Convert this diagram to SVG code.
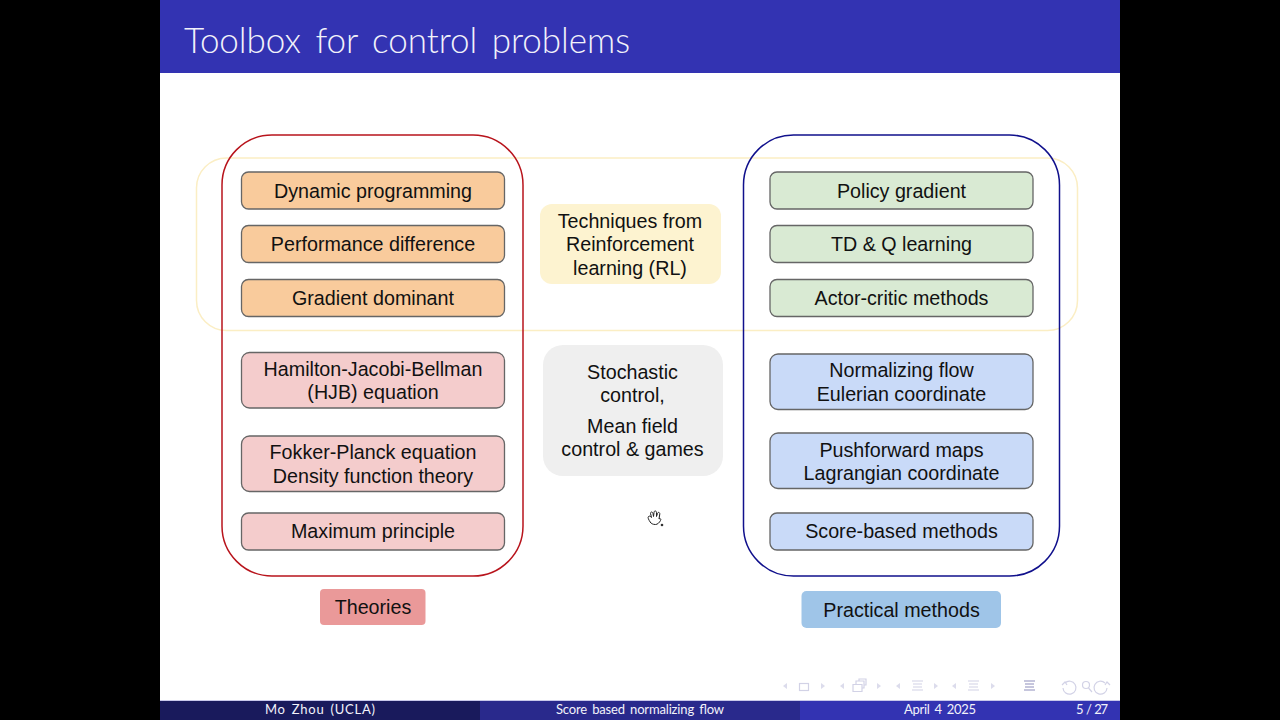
<svg xmlns="http://www.w3.org/2000/svg" width="1280" height="720" viewBox="0 0 1280 720">
<style>
text{font-family:"Liberation Sans",Arial,sans-serif;font-size:19.700px;fill:#111;text-anchor:middle}
.box{stroke:#666;stroke-width:1.300}
.o{fill:#f9cb9c}.p{fill:#f4cccc}.g{fill:#d9ead3}.b{fill:#c9daf8}
.beam{font-family:"Lato","Open Sans",sans-serif;fill:#f2f2fa;font-size:13px;word-spacing:2px}
.nav{fill:none;stroke:#d2d2e6;stroke-width:1.200}
.navf{fill:#dcdcec}
</style>
<rect width="1280" height="720" fill="#000"/>
<rect x="160" width="960" height="720" fill="#fff"/>
<g id="header"><rect x="160" width="960" height="73" fill="#3333b2"/>
<text class="beam" x="184" y="53" style="font-size:35px;font-weight:300;text-anchor:start;word-spacing:5px" textLength="446" lengthAdjust="spacing">Toolbox for control problems</text></g>
<g id="groups" fill="none">
<rect id="rl-band" x="196.500" y="158" width="881" height="172.500" rx="30" stroke="#fbeec4" stroke-width="1.500"/>
<rect id="theories-frame" x="222" y="135" width="301" height="441" rx="50" stroke="#b8141c" stroke-width="1.500"/>
<rect id="methods-frame" x="743.500" y="135" width="316" height="441" rx="50" stroke="#10108c" stroke-width="1.500"/>
</g>
<g id="connectors"/>
<g id="n1"><rect class="box o" x="241.500" y="172" width="263" height="37" rx="7"/><text x="373" y="197.500">Dynamic programming</text></g>
<g id="n2"><rect class="box o" x="241.500" y="225.500" width="263" height="37" rx="7"/><text x="373" y="251">Performance difference</text></g>
<g id="n3"><rect class="box o" x="241.500" y="279.500" width="263" height="37" rx="7"/><text x="373" y="304.500">Gradient dominant</text></g>
<g id="n4"><rect class="box p" x="241.500" y="352.500" width="263" height="55.500" rx="8"/><text x="373" y="375.500">Hamilton-Jacobi-Bellman</text><text x="373" y="399">(HJB) equation</text></g>
<g id="n5"><rect class="box p" x="241.500" y="436" width="263" height="55.500" rx="8"/><text x="373" y="459">Fokker-Planck equation</text><text x="373" y="482.500">Density function theory</text></g>
<g id="n6"><rect class="box p" x="241.500" y="513" width="263" height="37" rx="7"/><text x="373" y="538">Maximum principle</text></g>
<g id="n7"><rect class="box g" x="770" y="172" width="263" height="37" rx="7"/><text x="901.500" y="197.500">Policy gradient</text></g>
<g id="n8"><rect class="box g" x="770" y="225.500" width="263" height="37" rx="7"/><text x="901.500" y="251">TD &amp; Q learning</text></g>
<g id="n9"><rect class="box g" x="770" y="279.500" width="263" height="37" rx="7"/><text x="901.500" y="304.500">Actor-critic methods</text></g>
<g id="n10"><rect class="box b" x="770" y="354" width="263" height="55.500" rx="8"/><text x="901.500" y="377">Normalizing flow</text><text x="901.500" y="400.500">Eulerian coordinate</text></g>
<g id="n11"><rect class="box b" x="770" y="433" width="263" height="55.500" rx="8"/><text x="901.500" y="456.500">Pushforward maps</text><text x="901.500" y="480">Lagrangian coordinate</text></g>
<g id="n12"><rect class="box b" x="770" y="513" width="263" height="37" rx="7"/><text x="901.500" y="538">Score-based methods</text></g>
<g id="rl-label"><rect x="540" y="204" width="181" height="80" rx="12" fill="#fdf3d0"/><text x="630" y="227.500">Techniques from</text><text x="630" y="251">Reinforcement</text><text x="630" y="274.500">learning (RL)</text></g>
<g id="control-label"><rect x="543" y="345" width="180" height="131" rx="20" fill="#efefef"/><text x="632.500" y="378.500">Stochastic</text><text x="632.500" y="402">control,</text><text x="632.500" y="432.500">Mean field</text><text x="632.500" y="456">control &amp; games</text></g>
<g id="theories"><rect x="320" y="589" width="105.500" height="36" rx="4" fill="#ea9999"/><text x="373" y="614">Theories</text></g>
<g id="methods"><rect x="801.500" y="591" width="199.500" height="37" rx="5" fill="#9fc5e8"/><text x="901.500" y="616.500">Practical methods</text></g>
<g id="cursor" transform="translate(.5 1.500)"><path d="M650 521c-2-3-3-5-2-6s2 0 3 1l-1-4c0-2 2-2 2.500 0l.5 3 .5-4c0-2 2.500-2 2.500 0l0 4 1-3c.5-2 2.500-1 2.300.5l-.8 5c1-1 2.500 0 1.500 1.500-1 2-3 4-5 4-3 0-4-1-5.500-2.500z" fill="#fff" stroke="#222" stroke-width="1"/><circle cx="661.500" cy="523.500" r="1.300" fill="#333"/></g>
<g id="footer"><rect x="160" y="700.500" width="320" height="19.500" fill="#191a5c"/><rect x="480" y="700.500" width="320" height="19.500" fill="#29298c"/><rect x="800" y="700.500" width="320" height="19.500" fill="#3333b2"/>
<rect x="160" y="700" width="960" height="1" fill="#c8c8ea"/>
<text class="beam" x="320" y="714" textLength="110" lengthAdjust="spacing">Mo Zhou (UCLA)</text>
<text class="beam" x="640" y="714" textLength="168" lengthAdjust="spacing">Score based normalizing flow</text>
<text class="beam" x="940" y="714" textLength="72" lengthAdjust="spacing">April 4 2025</text>
<text class="beam" x="1092" y="714" textLength="32" lengthAdjust="spacing">5 / 27</text></g>
<g id="nav">
<path class="navf" d="M787 683v6l-4-3zM821 683v6l4-3zM844 683v6l-4-3zM877 683v6l4-3zM900 683v6l-4-3zM934 683v6l4-3zM956 683v6l-4-3zM991 683v6l4-3z"/>
<rect class="nav" x="799.500" y="683.500" width="9" height="7"/>
<path class="nav" d="M853 684.500h9v7h-9zM856 684v-3h8v7h-2M859 681v-2h7v6h-2"/>
<path class="nav" d="M912 681h11M913 684h9M913 687h9M912 690h11M968 681h11M969 684h9M969 687h9M968 690h11"/>
<path d="M1024 681h11M1025 684h9M1025 687h9M1024 690h11" fill="none" stroke="#b4b4d2" stroke-width="1.400"/>
<path class="nav" d="M1065 683a6.500 6.500 0 1 1-2 5M1062 685l3-3 2 3"/>
<circle class="nav" cx="1086" cy="685" r="3.500"/><path class="nav" d="M1088.500 688l3.500 4"/>
<path class="nav" d="M1105 683a6.500 6.500 0 1 0 2 5M1110 685l-3-3-2 3"/>
</g>
</svg>
